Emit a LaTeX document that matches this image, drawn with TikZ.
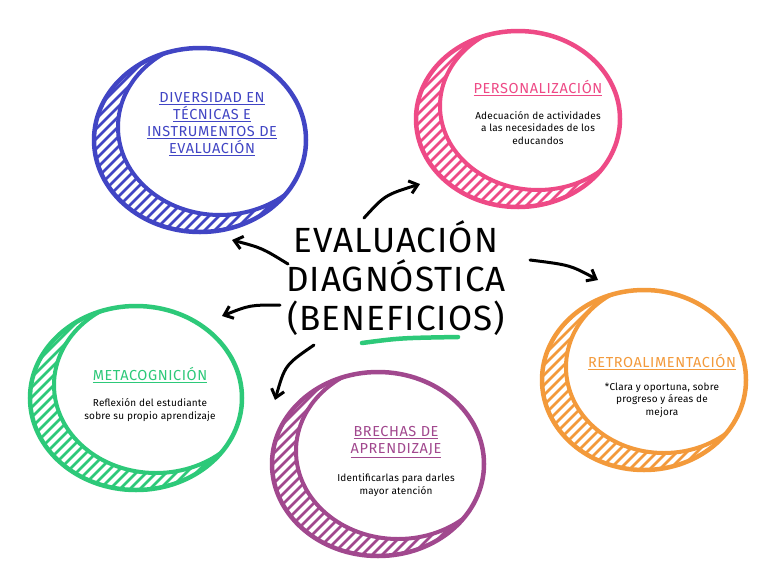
\documentclass[tikz,border=0pt]{standalone}
\usepackage{fontspec}
\setmainfont{Fira Sans}
\usetikzlibrary{arrows.meta}
\definecolor{cblue}{HTML}{4145C4}
\definecolor{cpink}{HTML}{EE4A86}
\definecolor{corange}{HTML}{F39A3B}
\definecolor{cpurple}{HTML}{A1488E}
\definecolor{cgreen}{HTML}{2DC979}
\tikzset{
  head/.style={font=\fontsize{14.5}{17}\selectfont\addfontfeatures{LetterSpace=4}, align=center},
  body/.style={font=\fontsize{10}{12.5}\selectfont\addfontfeatures{LetterSpace=2}, align=center},
  arr/.style={-{Straight Barb[length=8pt,width=13pt]}, line width=3pt, line cap=round},
}
\newcommand{\blob}[6]{% x y rx ry color name
  \begin{scope}
    \clip (#1,#2) ellipse [x radius=#3, y radius=#4];
    \fill[#5, even odd rule] (#1,#2) ellipse [x radius=#3, y radius=#4]
      (#1+20,#2-13) ellipse [x radius=#3-4, y radius=#4-4];
    \foreach \k in {-260,-250,...,260}
      \draw[white, line width=4pt] (#1+\k-120,#2+120) -- (#1+\k+120,#2-120);
    \draw[#5, line width=4pt] (#1+20,#2-13) ellipse [x radius=#3-4, y radius=#4-4];
  \end{scope}
  \draw[#5, line width=4.5pt] (#1,#2) ellipse [x radius=#3, y radius=#4];
  \coordinate (#6) at (#1,#2);
}
\begin{document}
\begin{tikzpicture}[x=1pt,y=-1pt]
\useasboundingbox (0,0) rectangle (768,576);
\fill[white] (0,0) rectangle (768,576);
\blob{200}{140}{106}{92}{cblue}{cb}
\blob{518}{119}{102}{88}{cpink}{cp}
\blob{644}{380}{102}{90}{corange}{co}
\blob{378}{464}{106}{92}{cpurple}{cu}
\blob{136}{398}{106}{92}{cgreen}{cg}

\node[head, text=cblue] (tb) at (212,124) {\underline{DIVERSIDAD EN}\\\underline{TÉCNICAS E}\\\underline{INSTRUMENTOS DE}\\\underline{EVALUACIÓN}};
\node[head, text=cpink] (tp) at (538,88) {\underline{PERSONALIZACIÓN}};
\node[body] (bp) at (538,128) {Adecuación de actividades\\a las necesidades de los\\educandos};
\node[head, text=corange] (to) at (662,362) {\underline{RETROALIMENTACIÓN}};
\node[body] (bo) at (662,400) {*Clara y oportuna, sobre\\progreso y áreas de\\mejora};
\node[head, text=cpurple] (tu) at (396,442) {\underline{BRECHAS DE}\\\underline{APRENDIZAJE}};
\node[body] (bu) at (396,485) {Identificarlas para darles\\mayor atención};
\node[head, text=cgreen] (tg) at (150,375) {\underline{METACOGNICIÓN}};
\node[body] (bg) at (150,410) {Reflexión del estudiante\\sobre su propio aprendizaje};

\node[font=\fontsize{35}{39}\selectfont\addfontfeatures{LetterSpace=3}, align=center] (c) at (396,278) {EVALUACIÓN\\DIAGNÓSTICA\\(BENEFICIOS)};
\draw[cgreen, line width=4.5pt, line cap=round] (362,343) .. controls (400,338) .. (458,337);

\coordinate (a1s) at (288,264); \coordinate (a1e) at (232,240);
\coordinate (a2s) at (364,218); \coordinate (a2e) at (420,184);
\coordinate (a3s) at (530,260); \coordinate (a3e) at (598,280);
\coordinate (a4s) at (280,305); \coordinate (a4e) at (222,316);
\coordinate (a5s) at (314,345); \coordinate (a5e) at (275,400);
\draw[arr] (a1s) .. controls (262,248) .. (a1e);
\draw[arr] (a2s) .. controls (385,195) .. (a2e);
\draw[arr] (a3s) .. controls (570,265) .. (a3e);
\draw[arr] (a4s) .. controls (250,305) .. (a4e);
\draw[arr] (a5s) .. controls (285,365) .. (a5e);
\end{tikzpicture}
\end{document}
